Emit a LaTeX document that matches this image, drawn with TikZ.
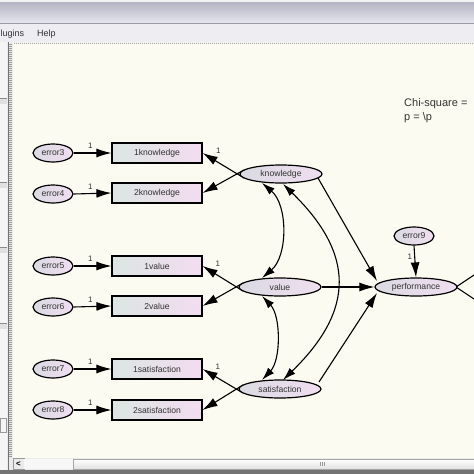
\documentclass[tikz,border=0pt]{standalone}
\usepackage{fontspec}
\setmainfont{Liberation Sans}
\usetikzlibrary{arrows.meta,shapes.geometric,calc,shadings}
\definecolor{canvas}{HTML}{FBFBF1}
\definecolor{menubar}{HTML}{EDEDF2}
\definecolor{titleA}{HTML}{B4B4C4}
\definecolor{titleB}{HTML}{E6E6EE}
\definecolor{latL}{HTML}{DADAE2}
\definecolor{latR}{HTML}{F0DEF0}
\definecolor{obsL}{HTML}{DCE6E2}
\definecolor{obsR}{HTML}{F3DCF0}
\definecolor{txt}{HTML}{333333}
\definecolor{chrome}{HTML}{9A9AA4}
\pgfdeclarelayer{back}
\pgfdeclarelayer{bg}
\pgfsetlayers{back,bg,main}
\begin{document}
\begin{tikzpicture}[x=1pt,y=-1pt,
  obs/.style={rectangle, draw=black, line width=1.2pt, minimum width=90pt, minimum height=20pt,
    inner sep=0pt, left color=obsL, right color=obsR, text=txt, font=\fontsize{8.6}{9}\selectfont},
  lat/.style={ellipse, draw=black, line width=1.2pt, minimum width=82pt, minimum height=18pt,
    inner sep=0pt, left color=latL, right color=latR, text=txt, font=\fontsize{8.6}{9}\selectfont},
  err/.style={lat, minimum width=40pt, minimum height=18pt},
  pth/.style={line width=1.1pt, -{Latex[length=15pt,width=9pt]}},
  cov/.style={line width=1.1pt, {Latex[length=13pt,width=8pt]}-{Latex[length=13pt,width=8pt]}},
  one/.style={font=\fontsize{8}{9}\selectfont, text=txt, inner sep=1pt}
]
\useasboundingbox (0,0) rectangle (474,474);
\begin{pgfonlayer}{back}
  % window chrome
  \fill[white!95!black] (0,0) rectangle (474,474);
  \shade[top color=titleA, bottom color=titleB] (0,2) rectangle (474,23);
  \draw[chrome, line width=1pt] (0,23.5) -- (474,23.5);
  \fill[menubar] (0,24) rectangle (474,42);
  \node[anchor=west, font=\fontsize{9}{10}\selectfont, text=black!80, inner sep=0] (mplug) at (0.5,34) {lugins};
  \node[anchor=west, font=\fontsize{9}{10}\selectfont, text=black!80, inner sep=0] (mhelp) at (37,34) {Help};
  \fill[canvas] (13,43) rectangle (474,458);
  % left panel
  \fill[white!96!black] (0,42) rectangle (7,470);
  \foreach \yy in {98,182,247,323} {
    \fill[black!12] (0,\yy) rectangle (7,\yy+6);
    \draw[black!45, line width=0.8pt] (0,\yy) -- (7,\yy);
  }
  \draw[black!40] (0.5,418) rectangle (6,432);
  % rulers
  \fill[black!8] (7,42) rectangle (13,470);
  \draw[black!55, line width=0.8pt] (8,42) -- (8,470);
  \foreach \yy in {44,46,...,456} \draw[black!40, line width=0.4pt] (9,\yy) -- (12,\yy);
  \foreach \xx in {14,16,...,474} \draw[black!35, line width=0.4pt] (\xx,42.5) -- (\xx,44);
  % bottom scrollbar
  \fill[black!8] (13,458) rectangle (474,470);
  \fill[white!92!black] (13,458) rectangle (24,470);
  \draw[black!40] (13.5,458.5) rectangle (24,469.5);
  \node[font=\fontsize{8}{9}\selectfont\bfseries, inner sep=0] (lt) at (18.5,464) {<};
  \fill[white!97!black] (24,459) rectangle (73,469);
  \shade[top color=white, bottom color=black!12, draw=black!35] (73,459) rectangle (476,469);
  \foreach \xx in {320,322,324} \draw[black!40] (\xx,462) -- (\xx,466);
  \fill[black!55] (0,470) rectangle (474,474);
\end{pgfonlayer}

% observed variables and errors
\node[obs] (r1k) at (157,153) {1knowledge};
\node[obs] (r2k) at (157,193) {2knowledge};
\node[obs] (r1v) at (157,266) {1value};
\node[obs] (r2v) at (157,306) {2value};
\node[obs] (r1s) at (157,369) {1satisfaction};
\node[obs] (r2s) at (157,410) {2satisfaction};
\node[err] (e3) at (53,153) {error3};
\node[err] (e4) at (53,194) {error4};
\node[err] (e5) at (53,266) {error5};
\node[err] (e6) at (53,307) {error6};
\node[err] (e7) at (53,369) {error7};
\node[err] (e8) at (53,410) {error8};
% latent
\node[lat] (k) at (281,174) {knowledge};
\node[lat] (v) at (280,287) {value};
\node[lat] (s) at (280,389) {satisfaction};
\node[lat] (p) at (416,287) {performance};
\node[err] (e9) at (414,236) {error9};
\coordinate (o1) at (492,263);
\coordinate (o2) at (492,311);

\node[anchor=west, font=\fontsize{11}{12}\selectfont, text=txt, inner sep=0] (chi) at (404,104) {Chi-square =};
\node[anchor=west, font=\fontsize{11}{12}\selectfont, text=txt, inner sep=0] (pv) at (404,118) {p = \textbackslash p};

\begin{pgfonlayer}{bg}
  \foreach \e/\r in {e3/r1k,e4/r2k,e5/r1v,e6/r2v,e7/r1s,e8/r2s}
    \draw[pth] (\e.east) -- node[one, pos=0.44, above=3pt] {1} (\r.west);
  \foreach \l/\ra/\rb in {k/r1k/r2k, v/r1v/r2v, s/r1s/r2s} {
    \draw[pth] ($(\l.center)+(-37,4)$) -- node[one, pos=0.62, above=7pt] {1} (\ra.east);
    \draw[pth] ($(\l.center)+(-37,-4)$) -- (\rb.east);
  }
  \draw[pth] ($(k.center)+(37,4)$) -- ($(p.center)+(-39,-6)$);
  \draw[pth] (v.east) -- (p.west);
  \draw[pth] ($(s.center)+(39,-7)$) -- ($(p.center)+(-39,6)$);
  \draw[pth] (e9.south) -- node[one, pos=0.35, left=1pt] {1} (p.north);
  \draw[line width=1.1pt] ($(p.center)+(34,4)$) -- (o1);
  \draw[line width=1.1pt] ($(p.center)+(34,-4)$) -- (o2);
  % covariances
  \draw[cov] ($(k.center)+(-19,9)$) .. controls +(26,22) and +(26,-22) .. ($(v.center)+(-18,-9)$);
  \draw[cov] ($(v.center)+(-18,9)$) .. controls +(19,20) and +(19,-20) .. ($(s.center)+(-18,-9)$);
  \draw[cov] ($(k.center)+(2,10)$) .. controls +(72,70) and +(72,-70) .. ($(s.center)+(3,-9)$);
\end{pgfonlayer}
\end{tikzpicture}
\end{document}
